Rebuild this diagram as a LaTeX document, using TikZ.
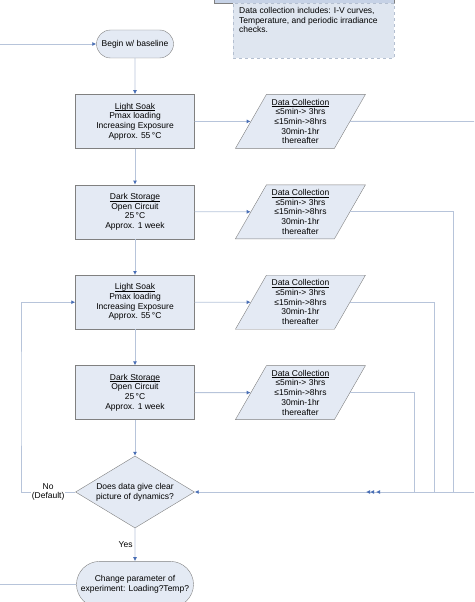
\documentclass[tikz,border=0pt]{standalone}
\usepackage{fontspec}
\setmainfont{Liberation Sans}
\usetikzlibrary{positioning,shapes.geometric,shapes.misc,arrows.meta}
\definecolor{boxfill}{HTML}{E4EAF4}
\definecolor{boxline}{HTML}{808080}
\definecolor{flowline}{HTML}{B7C4DA}
\definecolor{tipblue}{HTML}{4A6FB5}
\definecolor{notefill}{HTML}{DFE6F0}
\definecolor{noteline}{HTML}{B4BFD0}
\definecolor{notehead}{HTML}{C6D2E6}
\newcommand{\ttl}[1]{\underline{\raisebox{0pt}[\height][0pt]{#1}}}
\tikzset{
  base/.style={draw=boxline, fill=boxfill, font=\fontsize{8.5}{9.7}\selectfont, align=center, inner sep=1pt},
  stepbox/.style={base, rectangle, minimum width=119pt, minimum height=54pt},
  terminal/.style={base, rounded rectangle, minimum height=28pt},
  datacol/.style={base, trapezium, trapezium left angle=60, trapezium right angle=120,
    trapezium stretches=true, minimum width=130pt, minimum height=54pt},
  decision/.style={base, diamond, aspect=1.65, minimum width=119pt, minimum height=72pt, inner sep=0pt},
  note/.style={draw=noteline, dashed, fill=notefill, minimum width=161pt, minimum height=55pt},
  notetxt/.style={font=\fontsize{8.5}{9.7}\selectfont, align=left, inner sep=0pt},
  flow/.style={draw=flowline, line width=0.8pt},
  arr/.style={flow, -{Latex[length=4pt,width=4pt,color=tipblue]}},
  tri/.style={flow, -{Latex[length=4pt,width=4pt,color=tipblue,sep=2pt]
    Latex[length=4pt,width=4pt,color=tipblue,sep=0pt]Latex[length=4pt,width=4pt,color=tipblue]}},
  lbl/.style={font=\fontsize{8.5}{9.7}\selectfont, align=center, inner sep=1pt},
}
\begin{document}
\begin{tikzpicture}[x=1pt, y=-1pt, node distance=36pt]
  \useasboundingbox (0,0) rectangle (474,602);
  % note
  \fill[notehead, draw=boxline] (214,-3) rectangle (394,3);
  \node[note, anchor=north west] (note) at (233,3) {};
  \node[notetxt, anchor=north west] (notetext) at (239,7) {Data collection includes: I-V curves,\\Temperature, and periodic irradiance\\checks.};
  % begin
  \coordinate (edgeL) at (0,0);
  \coordinate (edgeR) at (474,0);
  \node[terminal, minimum width=79pt] (begin) at (135,44) {Begin w/ baseline};
  \draw[arr] (begin -| edgeL) -- (begin);
  % light soak
  \node[stepbox, below=of begin] (ls1) {\ttl{Light Soak}\\Pmax loading\\Increasing Exposure\\Approx. 55\,°C};
  \node[datacol, right=56pt of ls1] (dc1) {\ttl{Data Collection}\\≤5min-> 3hrs\\≤15min->8hrs\\30min-1hr\\thereafter};
  % dark storage
  \node[stepbox, below=of ls1] (ds1) {\ttl{Dark Storage}\\Open Circuit\\25\,°C\\Approx. 1 week};
  \node[datacol, right=56pt of ds1] (dc2) {\ttl{Data Collection}\\≤5min-> 3hrs\\≤15min->8hrs\\30min-1hr\\thereafter};
  % light soak again
  \node[stepbox, below=of ds1] (ls2) {\ttl{Light Soak}\\Pmax loading\\Increasing Exposure\\Approx. 55\,°C};
  \node[datacol, right=56pt of ls2] (dc3) {\ttl{Data Collection}\\≤5min-> 3hrs\\≤15min->8hrs\\30min-1hr\\thereafter};
  % dark storage again
  \node[stepbox, below=of ls2] (ds2) {\ttl{Dark Storage}\\Open Circuit\\25\,°C\\Approx. 1 week};
  \node[datacol, right=56pt of ds2] (dc4) {\ttl{Data Collection}\\≤5min-> 3hrs\\≤15min->8hrs\\30min-1hr\\thereafter};
  % decision
  \node[decision, below=of ds2] (dec) {Does data give clear\\picture of dynamics?};
  \node[terminal, minimum width=119pt, minimum height=46pt, below=33pt of dec] (chg) {Change parameter of\\experiment: Loading?Temp?};
  % main column
  \draw[arr] (begin) -- (ls1);
  \draw[arr] (ls1) -- (ds1);
  \draw[arr] (ds1) -- (ls2);
  \draw[arr] (ls2) -- (ds2);
  \draw[arr] (ds2) -- (dec);
  % to data collection
  \draw[arr] (ls1) -- (dc1);
  \draw[arr] (ds1) -- (dc2);
  \draw[arr] (ls2) -- (dc3);
  \draw[arr] (ds2) -- (dc4);
  % back from data collection
  \coordinate (c2) at (453,0);
  \coordinate (c3) at (434,0);
  \coordinate (c4) at (414,0);
  \draw[flow] (dc1) -- (dc1 -| edgeR);
  \draw[flow] (dc2) -| (c2 |- dec);
  \draw[flow] (dc3) -| (c3 |- dec);
  \draw[flow] (dc4) -| (c4 |- dec);
  \draw[arr] (dec -| edgeR) -- (dec);
  \coordinate (t1) at (384,0);
  \coordinate (t2) at (366,0);
  \draw[tri] (t1 |- dec) -- (t2 |- dec);
  % no / yes
  \coordinate (back) at (21,400);
  \draw[arr] (dec) -| node[lbl, pos=0.25, fill=white] (no) {No\\(Default)} (back) |- (ls2);
  \draw[arr] (dec) -- node[lbl, left, inner sep=2pt] (yes) {Yes} (chg);
  \draw[flow] (chg) -- (chg -| edgeL);
\end{tikzpicture}
\end{document}
